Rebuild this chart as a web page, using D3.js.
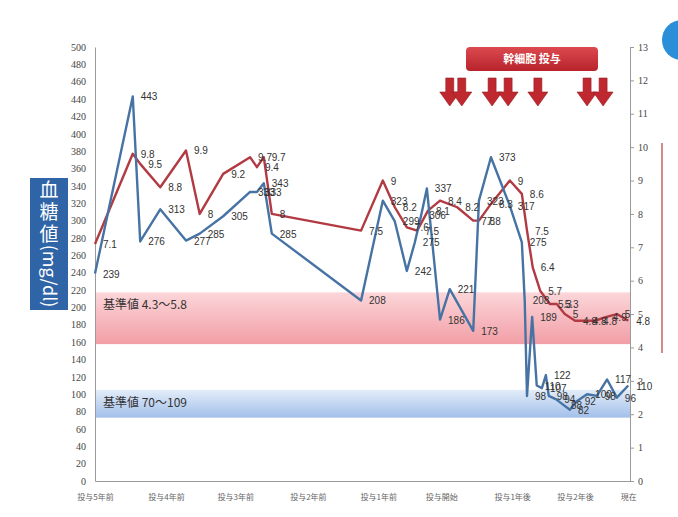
<!DOCTYPE html>
<html>
<head>
<meta charset="utf-8">
<script src="https://cdn.jsdelivr.net/npm/d3@7"></script>
<style>
  body { margin: 0; background: #fff; }
  svg { display: block; }
</style>
</head>
<body>
<div id="chart"></div>
<script>
// 血糖値 (mg/dl) - months relative to first stem cell dose
var glucoseMonths = [-60, -53.4, -52.1, -48.6, -44.1, -41.7, -37.6, -32.9, -31.7, -30.5, -29.1,
  -13.5, -9.7, -7.6, -5.5, -4.1, -3.0, -2.0, 0.3, 2.0, 6.1, 7.1, 9.2, 12.5, 14.6, 15.1, 15.5,
  16.4, 17.2, 18.1, 18.8, 19.3, 20.6, 21.8, 23.0, 24.2, 26.0, 27.7, 29.5, 31.2, 33.2];
var glucoseValues = [239, 443, 276, 313, 277, 285, 305, 333, 333, 343, 285,
  208, 323, 299, 242, 275, 306, 337, 186, 221, 173, 323, 373, 317, 275, 208, 98,
  189, 110, 107, 122, 98, 94, 88, 82, 92, 100, 98, 117, 96, 110];

// HbA1c (%)
var hba1cMonths = [-60, -53.4, -52.1, -48.6, -44.1, -41.7, -37.6, -32.9, -31.7, -30.5, -29.1,
  -13.5, -9.7, -7.6, -5.5, -3.7, -1.8, 0.3, 3.3, 6.1, 7.1, 9.2, 12.5, 14.6, 15.5, 16.5,
  17.8, 19.5, 20.7, 22.1, 23.9, 25.6, 27.4, 29.1, 31.2, 33.2];
var hba1cValues = [7.1, 9.8, 9.5, 8.8, 9.9, 8, 9.2, 9.7, 9.4, 9.7, 8,
  7.5, 9, 8.2, 7.6, 7.5, 8.1, 8.4, 8.2, 7.8, 7.8, 8.3, 9, 8.6, 7.5, 6.4,
  5.7, 5.3, 5.3, 5, 4.8, 4.8, 4.8, 4.9, 5, 4.8];

// 幹細胞 投与 timing
var injectionMonths = [2.0, 4.1, 9.4, 12.2, 17.4, 26.0, 28.8];

var xTickMonths = [-60, -47.6, -35.5, -22.8, -10.5, 0.5, 12.9, 23.9, 33.2];
var xTickLabels = ['投与5年前', '投与4年前', '投与3年前', '投与2年前', '投与1年前',
  '投与開始', '投与1年後', '投与2年後', '現在'];

// reference ranges (bands)
var glucoseRange = [73, 105];
var hba1cRange = [4.1, 5.65];
var glucoseRangeLabel = '基準値 70〜109';
var hba1cRangeLabel = '基準値 4.3〜5.8';

var width = 678, height = 517;
var margin = { top: 47, right: 48, bottom: 36, left: 95 };

var svg = d3.select('#chart').append('svg')
    .attr('width', width)
    .attr('height', height);

var defs = svg.append('defs');

function addGradient(id, top, bottom) {
    var g = defs.append('linearGradient')
        .attr('id', id)
        .attr('x1', 0).attr('y1', 0).attr('x2', 0).attr('y2', 1);
    g.append('stop').attr('offset', '0%').attr('stop-color', top);
    g.append('stop').attr('offset', '100%').attr('stop-color', bottom);
}
addGradient('pinkBand', '#fbd6d9', '#f29ea6');
addGradient('blueBand', '#e3edf9', '#a2bfea');
addGradient('redBox', '#dc4a50', '#b8232b');

var x = d3.scaleLinear()
    .domain([-60, 33.5])
    .range([margin.left, width - margin.right]);
var yLeft = d3.scaleLinear()
    .domain([0, 500])
    .range([height - margin.bottom, margin.top]);
var yRight = d3.scaleLinear()
    .domain([0, 13])
    .range([height - margin.bottom, margin.top]);

// bands
var plotW = x.range()[1] - x.range()[0];
svg.append('rect')
    .attr('x', x.range()[0])
    .attr('y', yRight(hba1cRange[1]))
    .attr('width', plotW)
    .attr('height', yRight(hba1cRange[0]) - yRight(hba1cRange[1]))
    .attr('fill', 'url(#pinkBand)');
svg.append('rect')
    .attr('x', x.range()[0])
    .attr('y', yLeft(glucoseRange[1]))
    .attr('width', plotW)
    .attr('height', yLeft(glucoseRange[0]) - yLeft(glucoseRange[1]))
    .attr('fill', 'url(#blueBand)');

svg.append('text')
    .attr('x', x.range()[0] + 8)
    .attr('y', yRight(hba1cRange[1]) + 17)
    .style('font-family', '"Noto Sans CJK JP", sans-serif')
    .style('font-size', '12px')
    .attr('fill', '#333')
    .text(hba1cRangeLabel);
svg.append('text')
    .attr('x', x.range()[0] + 8)
    .attr('y', yLeft(glucoseRange[1]) + 17)
    .style('font-family', '"Noto Sans CJK JP", sans-serif')
    .style('font-size', '12px')
    .attr('fill', '#333')
    .text(glucoseRangeLabel);

// axes
var leftAxis = svg.append('g')
    .attr('transform', 'translate(' + margin.left + ',0)')
    .call(d3.axisLeft(yLeft).tickValues(d3.range(0, 501, 20)).tickSize(0).tickPadding(9));
var rightAxis = svg.append('g')
    .attr('transform', 'translate(' + (width - margin.right) + ',0)')
    .call(d3.axisRight(yRight).tickValues(d3.range(0, 14, 1)).tickSize(4).tickPadding(4));
var bottomAxis = svg.append('g')
    .attr('transform', 'translate(0,' + (height - margin.bottom) + ')')
    .call(d3.axisBottom(x).tickValues(xTickMonths)
        .tickFormat(function(d, i) { return xTickLabels[i]; })
        .tickSize(0).tickPadding(13));

[leftAxis, rightAxis, bottomAxis].forEach(function(ax) {
    ax.select('.domain').attr('stroke', '#9a9a9a');
    ax.selectAll('.tick line').attr('stroke', '#9a9a9a');
});
leftAxis.selectAll('text')
    .style('font-family', '"Liberation Serif", serif').style('font-size', '10px').attr('fill', '#444');
rightAxis.selectAll('text')
    .style('font-family', '"Liberation Serif", serif').style('font-size', '10px').attr('fill', '#444');
bottomAxis.selectAll('text')
    .style('font-family', '"Noto Sans CJK JP", sans-serif').style('font-size', '8px').attr('fill', '#666');

// lines
var glucosePts = glucoseMonths.map(function(m, i) { return { m: m, v: glucoseValues[i] }; });
var hba1cPts = hba1cMonths.map(function(m, i) { return { m: m, v: hba1cValues[i] }; });

svg.append('path')
    .datum(hba1cPts)
    .attr('fill', 'none')
    .attr('stroke', '#b23a42')
    .attr('stroke-width', 2.4)
    .attr('stroke-linejoin', 'round')
    .attr('d', d3.line().x(function(d) { return x(d.m); }).y(function(d) { return yRight(d.v); }));

svg.append('path')
    .datum(glucosePts)
    .attr('fill', 'none')
    .attr('stroke', '#4673a3')
    .attr('stroke-width', 2.4)
    .attr('stroke-linejoin', 'round')
    .attr('d', d3.line().x(function(d) { return x(d.m); }).y(function(d) { return yLeft(d.v); }));

// data labels
svg.append('g').selectAll('text')
    .data(hba1cPts)
    .enter().append('text')
    .attr('x', function(d) { return x(d.m) + 8; })
    .attr('y', function(d) { return yRight(d.v) + 4; })
    .style('font-family', '"Liberation Sans", sans-serif')
    .style('font-size', '10px')
    .attr('fill', '#333')
    .text(function(d) { return d.v; });

svg.append('g').selectAll('text')
    .data(glucosePts)
    .enter().append('text')
    .attr('x', function(d) { return x(d.m) + 8; })
    .attr('y', function(d) { return yLeft(d.v) + 4; })
    .style('font-family', '"Liberation Sans", sans-serif')
    .style('font-size', '10px')
    .attr('fill', '#333')
    .text(function(d) { return d.v; });

// 幹細胞 投与 box and arrows
var box = svg.append('g');
box.append('rect')
    .attr('x', 466).attr('y', 47)
    .attr('width', 132).attr('height', 24)
    .attr('rx', 4)
    .attr('fill', 'url(#redBox)');
box.append('text')
    .attr('x', 532).attr('y', 63)
    .attr('text-anchor', 'middle')
    .style('font-family', '"Noto Sans CJK JP", sans-serif')
    .style('font-size', '11px')
    .style('font-weight', 'bold')
    .attr('fill', '#fff')
    .text('幹細胞  投与');

svg.append('g').selectAll('path')
    .data(injectionMonths)
    .enter().append('path')
    .attr('transform', function(d) { return 'translate(' + x(d) + ',78)'; })
    .attr('d', 'M-4,0 L4,0 L4,14 L10,14 L0,28 L-10,14 L-4,14 Z')
    .attr('fill', '#c0282f')
    .attr('stroke', '#951b21')
    .attr('stroke-width', 0.6);

// y-axis title box
var titleBox = svg.append('g');
titleBox.append('rect')
    .attr('x', 30).attr('y', 178)
    .attr('width', 38).attr('height', 132)
    .attr('fill', '#2f64a6');
['血', '糖', '値'].forEach(function(ch, i) {
    titleBox.append('text')
        .attr('x', 49).attr('y', 197 + i * 22)
        .attr('text-anchor', 'middle')
        .style('font-family', '"Noto Sans CJK JP", sans-serif')
        .style('font-size', '19px')
        .attr('fill', '#fff')
        .text(ch);
});
titleBox.append('text')
    .attr('transform', 'translate(43,276) rotate(90)')
    .attr('text-anchor', 'middle')
    .style('font-family', '"Noto Sans CJK JP", sans-serif')
    .style('font-size', '18px')
    .attr('fill', '#fff')
    .text('(mg/dl)');

// fragments at the right edge of the slide
svg.append('line')
    .attr('x1', 662).attr('x2', 662)
    .attr('y1', 143).attr('y2', 353)
    .attr('stroke', '#c9606c')
    .attr('stroke-width', 1.5);
svg.append('circle')
    .attr('cx', 682).attr('cy', 40)
    .attr('r', 20)
    .attr('fill', '#2a8fd8');
</script>
</body>
</html>
